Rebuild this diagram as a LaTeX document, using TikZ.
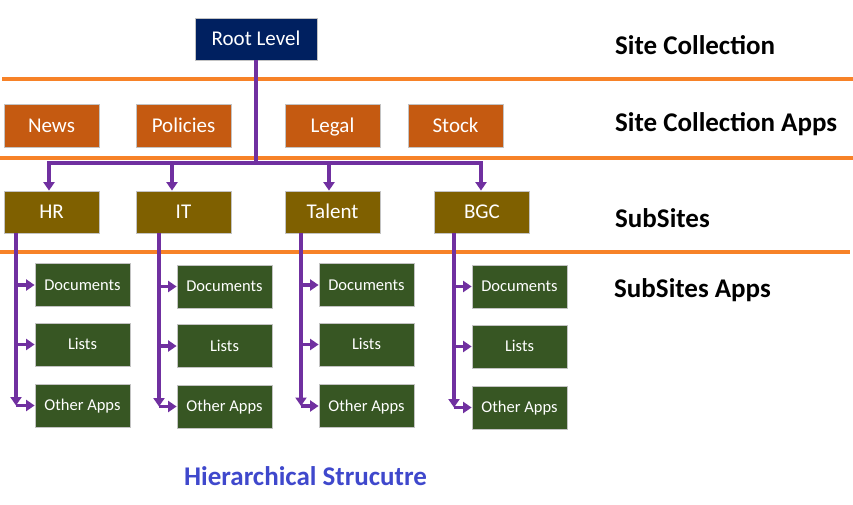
\documentclass[tikz,border=0pt]{standalone}
\usepackage{fontspec}
\setmainfont{Carlito}
\usetikzlibrary{arrows.meta}
\definecolor{navy}{RGB}{0,32,96}
\definecolor{rust}{RGB}{197,90,17}
\definecolor{olive}{RGB}{127,96,0}
\definecolor{leaf}{RGB}{55,86,35}
\definecolor{band}{RGB}{247,130,40}
\definecolor{plum}{RGB}{112,48,160}
\definecolor{ttlblue}{RGB}{63,72,204}
\definecolor{edge}{RGB}{195,195,195}
\tikzset{
  box/.style={draw=edge, line width=0.8pt, text=white, inner sep=0pt, minimum width=95pt, minimum height=43pt},
  bigbox/.style={box, font=\fontsize{21}{25}\selectfont, text height=15.5pt, text depth=2pt},
  smallbox/.style={box, fill=leaf, font=\fontsize{16.5}{19}\selectfont, text height=12pt, text depth=1.4pt},
  lvl/.style={anchor=base west, inner sep=0pt, font=\fontsize{27}{32}\selectfont\bfseries},
  bandline/.style={draw=band, line width=4.2pt},
  arr/.style={draw=plum, line width=3.2pt, -{Triangle[length=8.5pt,width=11pt]}},
  pl/.style={draw=plum, line width=3.2pt}
}
\begin{document}
\begin{tikzpicture}[x=1pt,y=-1pt]
\useasboundingbox (0,0) rectangle (853,504);
% band lines
\coordinate (b1l) at (2,79); \coordinate (b1r) at (853,79);
\coordinate (b2l) at (0,158); \coordinate (b2r) at (853,158);
\coordinate (b3l) at (0,252); \coordinate (b3r) at (850,252);
\draw[bandline] (b1l) -- (b1r);
\draw[bandline] (b2l) -- (b2r);
\draw[bandline] (b3l) -- (b3r);
% root
\node[bigbox, fill=navy, minimum width=122pt, minimum height=42pt] (root) at (256,39) {Root Level};
% site collection apps
\node[bigbox, fill=rust] (news) at (51.5,125.5) {News};
\node[bigbox, fill=rust] (pol) at (183.5,125.5) {Policies};
\node[bigbox, fill=rust] (legal) at (332.5,125.5) {Legal};
\node[bigbox, fill=rust] (stock) at (455.5,125.5) {Stock};
% subsites
\node[bigbox, fill=olive, minimum height=42pt] (hr) at (51.5,212) {HR};
\node[bigbox, fill=olive, minimum height=42pt] (it) at (183.5,212) {IT};
\node[bigbox, fill=olive, minimum height=42pt] (tal) at (332.5,212) {Talent};
\node[bigbox, fill=olive, minimum height=42pt] (bgc) at (482,212) {BGC};
% subsite apps
\node[smallbox] (hrd) at (82.5,285) {Documents};
\node[smallbox] (hrl) at (82.5,344.5) {Lists};
\node[smallbox] (hro) at (82.5,405.5) {Other Apps};
\node[smallbox] (itd) at (224.5,286.5) {Documents};
\node[smallbox] (itl) at (224.5,346) {Lists};
\node[smallbox] (ito) at (224.5,406.5) {Other Apps};
\node[smallbox] (tad) at (366.5,285) {Documents};
\node[smallbox] (tal2) at (366.5,344.5) {Lists};
\node[smallbox] (tao) at (366.5,406) {Other Apps};
\node[smallbox] (bgd) at (519.5,286.5) {Documents};
\node[smallbox] (bgl) at (519.5,346.5) {Lists};
\node[smallbox] (bgo) at (519.5,407.5) {Other Apps};
% level labels
\node[lvl] (l1) at (615,54) {Site Collection};
\node[lvl] (l2) at (615,131.5) {Site Collection Apps};
\node[lvl] (l3) at (615,227) {SubSites};
\node[lvl] (l4) at (614,297) {SubSites Apps};
\node[lvl, text=ttlblue] (ttl) at (184,485) {Hierarchical Strucutre};
% root to subsites
\coordinate (j) at (256,163);
\coordinate (jb) at (256,165);
\draw[pl] (root.south) -- (jb);
\draw[arr] (j) -| ([xshift=-2.5]hr.north);
\draw[arr] (j) -| ([xshift=-11.5]it.north);
\draw[arr] (j) -| ([xshift=-3.5]tal.north);
\draw[arr] (j) -| ([xshift=-1]bgc.north);
% subsite trunks
\coordinate (hrt) at ([xshift=-35.5]hr.south);
\coordinate (itt) at ([xshift=-24.5]it.south);
\coordinate (tat) at ([xshift=-31.5]tal.south);
\coordinate (bgt) at ([xshift=-28]bgc.south);
\foreach \t/\d/\l/\o in {hrt/hrd/hrl/hro, itt/itd/itl/ito, tat/tad/tal2/tao, bgt/bgd/bgl/bgo}{
  \draw[arr] (\t) -- (\t |- \o.west);
  \draw[arr] (\t |- \d.west) -- (\d.west);
  \draw[arr] (\t |- \l.west) -- (\l.west);
  \draw[arr] (\t |- \o.west) -- (\o.west);
}
\end{tikzpicture}
\end{document}
